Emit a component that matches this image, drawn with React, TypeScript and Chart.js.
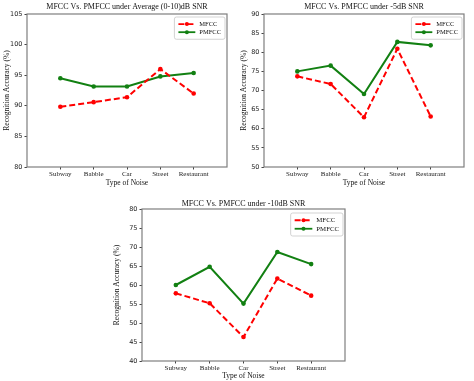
import React, { useEffect, useRef } from "react";
import { Chart, registerables } from "chart.js";

Chart.register(...registerables);

const categories = ["Subway", "Babble", "Car", "Street", "Restaurant"];
const seriesLabels = ["MFCC", "PMFCC"];

const mfccAvg = [89.85, 90.6, 91.4, 96.0, 92.0];
const pmfccAvg = [94.5, 93.15, 93.15, 94.8, 95.35];
const mfcc5 = [73.7, 71.7, 63.0, 80.9, 63.2];
const pmfcc5 = [75.0, 76.5, 69.1, 82.7, 81.8];
const mfcc10 = [57.8, 55.2, 46.3, 61.7, 57.2];
const pmfcc10 = [60.0, 64.8, 55.1, 68.7, 65.5];

const titles = [
  "MFCC Vs. PMFCC under Average (0-10)dB SNR",
  "MFCC Vs. PMFCC under -5dB SNR",
  "MFCC Vs. PMFCC under -10dB SNR",
];
const yMins = [80, 50, 40];
const yMaxs = [105, 90, 80];
const xTitle = "Type of Noise";
const yTitle = "Recognition Accuracy (%)";

const SERIF = "'Liberation Serif', 'Times New Roman', serif";
const SANS = "'DejaVu Sans', sans-serif";

type Panel = {
  left: number;
  top: number;
  w: number;
  h: number;
  area: { l: number; t: number; r: number; b: number };
  title: string;
  titleY: number;
  yMin: number;
  yMax: number;
  mfcc: number[];
  pmfcc: number[];
  xTitleOffset: number;
  legendTop: number;
  legendFont: number;
};

const panels: Panel[] = [
  {
    left: 0, top: 0, w: 237, h: 190,
    area: { l: 27, t: 14, r: 227, b: 167 },
    title: titles[0], titleY: 6.5, yMin: yMins[0], yMax: yMaxs[0],
    mfcc: mfccAvg, pmfcc: pmfccAvg, xTitleOffset: 7, legendTop: 3, legendFont: 6.5,
  },
  {
    left: 237, top: 0, w: 237, h: 190,
    area: { l: 27, t: 14, r: 227, b: 167 },
    title: titles[1], titleY: 6.5, yMin: yMins[1], yMax: yMaxs[1],
    mfcc: mfcc5, pmfcc: pmfcc5, xTitleOffset: 7, legendTop: 3, legendFont: 6.5,
  },
  {
    left: 110, top: 190, w: 260, h: 191,
    area: { l: 32, t: 19, r: 235, b: 171 },
    title: titles[2], titleY: 14, yMin: yMins[2], yMax: yMaxs[2],
    mfcc: mfcc10, pmfcc: pmfcc10, xTitleOffset: 5, legendTop: 4, legendFont: 6.8,
  },
];

const panelPlugin = {
  id: "panelDeco",
  afterDraw(chart: any, _args: any, opts: any) {
    const { ctx, chartArea } = chart;
    const { left, top, right, bottom } = chartArea;
    ctx.save();
    // frame
    ctx.strokeStyle = "#7f7f7f";
    ctx.lineWidth = 1.2;
    ctx.strokeRect(left, top, right - left, bottom - top);
    // title
    ctx.fillStyle = "#111";
    ctx.font = `8px ${SERIF}`;
    ctx.textAlign = "center";
    ctx.textBaseline = "middle";
    ctx.fillText(opts.title, (left + right) / 2, opts.titleY);
    // legend
    const fs = opts.legendFont;
    ctx.font = `${fs}px ${SERIF}`;
    const labels = chart.data.datasets.map((d: any) => d.label);
    const tw = Math.max(...labels.map((l: string) => ctx.measureText(l).width));
    const lineLen = fs * 2.6;
    const bw = 4 + lineLen + 4 + tw + 4;
    const rowH = fs * 1.25;
    const bh = rowH * labels.length + 6;
    const bx = right - 2 - bw;
    const by = top + opts.legendTop;
    ctx.beginPath();
    const r = 2;
    ctx.moveTo(bx + r, by);
    ctx.arcTo(bx + bw, by, bx + bw, by + bh, r);
    ctx.arcTo(bx + bw, by + bh, bx, by + bh, r);
    ctx.arcTo(bx, by + bh, bx, by, r);
    ctx.arcTo(bx, by, bx + bw, by, r);
    ctx.closePath();
    ctx.fillStyle = "rgba(255,255,255,0.9)";
    ctx.fill();
    ctx.strokeStyle = "#c8c8c8";
    ctx.lineWidth = 0.8;
    ctx.stroke();
    chart.data.datasets.forEach((d: any, i: number) => {
      const cy = by + 3 + rowH * (i + 0.5);
      const x0 = bx + 4;
      ctx.beginPath();
      ctx.strokeStyle = d.borderColor;
      ctx.lineWidth = 1.8;
      ctx.setLineDash(d.borderDash || []);
      ctx.moveTo(x0, cy);
      ctx.lineTo(x0 + lineLen, cy);
      ctx.stroke();
      ctx.setLineDash([]);
      ctx.beginPath();
      ctx.fillStyle = d.borderColor;
      ctx.arc(x0 + lineLen / 2, cy, 2, 0, Math.PI * 2);
      ctx.fill();
      ctx.fillStyle = "#111";
      ctx.textAlign = "left";
      ctx.textBaseline = "middle";
      ctx.fillText(d.label, x0 + lineLen + 4, cy);
    });
    ctx.restore();
  },
};

function PanelChart({ p }: { p: Panel }) {
  const ref = useRef<HTMLCanvasElement | null>(null);
  useEffect(() => {
    if (!ref.current) return;
    const chart = new Chart(ref.current, {
      type: "line",
      data: {
        datasets: [
          {
            label: seriesLabels[0],
            data: p.mfcc.map((v, i) => ({ x: i, y: v })),
            borderColor: "#ff0000",
            backgroundColor: "#ff0000",
            borderWidth: 2,
            borderDash: [6, 3],
            pointRadius: 2.3,
            pointBorderWidth: 0,
            pointBackgroundColor: "#ff0000",
            tension: 0,
          },
          {
            label: seriesLabels[1],
            data: p.pmfcc.map((v, i) => ({ x: i, y: v })),
            borderColor: "#128012",
            backgroundColor: "#128012",
            borderWidth: 2,
            pointRadius: 2.3,
            pointBorderWidth: 0,
            pointBackgroundColor: "#128012",
            tension: 0,
          },
        ],
      },
      options: {
        animation: false,
        responsive: false,
        maintainAspectRatio: false,
        events: [],
        layout: {
          padding: { left: 0, top: p.area.t, right: p.w - p.area.r, bottom: 0 },
        },
        plugins: {
          legend: { display: false },
          title: { display: false },
          tooltip: { enabled: false },
          panelDeco: {
            title: p.title,
            titleY: p.titleY,
            legendTop: p.legendTop,
            legendFont: p.legendFont,
          },
        } as any,
        scales: {
          x: {
            type: "linear",
            min: -1,
            max: 5,
            afterBuildTicks: (s: any) => {
              s.ticks = categories.map((_, i) => ({ value: i }));
            },
            afterFit: (s: any) => {
              s.height = p.h - p.area.b;
            },
            ticks: {
              autoSkip: false,
              maxRotation: 0,
              padding: 0,
              color: "#222",
              font: { family: SERIF, size: 7 },
              callback: (v: any) => categories[v as number] ?? "",
            },
            grid: {
              display: true,
              drawOnChartArea: false,
              drawTicks: true,
              tickLength: 2.5,
              color: "#444",
            },
            border: { display: false },
            title: {
              display: true,
              text: xTitle,
              color: "#111",
              font: { family: SERIF, size: 7.5 },
              padding: { top: 0, bottom: p.xTitleOffset - 4.5 },
            },
          },
          y: {
            type: "linear",
            min: p.yMin,
            max: p.yMax,
            afterFit: (s: any) => {
              s.width = p.area.l;
            },
            ticks: {
              stepSize: 5,
              padding: 2,
              color: "#222",
              font: { family: SANS, size: 6.5 },
            },
            grid: {
              display: true,
              drawOnChartArea: false,
              drawTicks: true,
              tickLength: 2.5,
              color: "#444",
            },
            border: { display: false },
            title: {
              display: true,
              text: yTitle,
              color: "#111",
              font: { family: SERIF, size: 7.5 },
              padding: { top: 2.5, bottom: 0 },
            },
          },
        },
      },
      plugins: [panelPlugin],
    });
    return () => chart.destroy();
  }, [p]);
  return (
    <div style={{ position: "absolute", left: p.left, top: p.top, width: p.w, height: p.h }}>
      <canvas ref={ref} width={p.w} height={p.h} style={{ display: "block", width: p.w, height: p.h }} />
    </div>
  );
}

export default function App() {
  return (
    <div style={{ position: "absolute", left: 0, top: 0, width: 474, height: 381, background: "#fff", overflow: "hidden" }}>
      {panels.map((p, i) => (
        <PanelChart key={i} p={p} />
      ))}
    </div>
  );
}
